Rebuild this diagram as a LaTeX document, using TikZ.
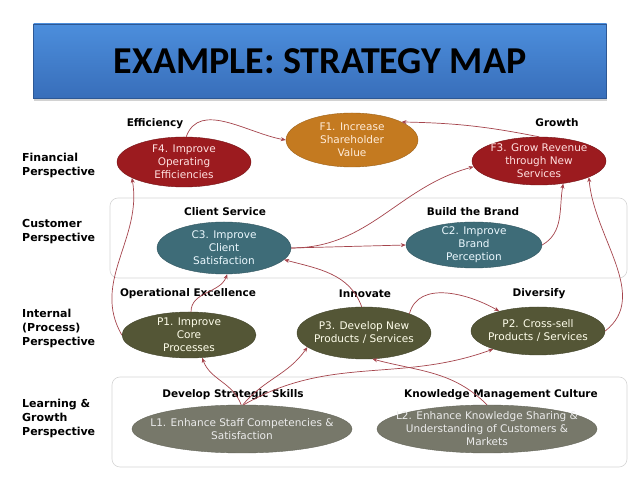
\documentclass[tikz,border=0pt]{standalone}
\usepackage{fontspec}
\setmainfont{DejaVu Sans}
\newfontfamily\titlefont{Carlito}
\usetikzlibrary{shapes.geometric,arrows.meta,shadows}

\definecolor{finred}{HTML}{9C1B1F}
\definecolor{finorange}{HTML}{C47A20}
\definecolor{custteal}{HTML}{3E6C78}
\definecolor{procolive}{HTML}{545636}
\definecolor{learngray}{HTML}{77786A}
\definecolor{linkred}{HTML}{A5444C}
\definecolor{titletop}{RGB}{76,142,220}
\definecolor{titlebottom}{RGB}{56,110,186}

\tikzset{
  titlebox/.style={minimum width=573pt, minimum height=74pt, draw=titlebottom!80!black,
    top color=titletop, bottom color=titlebottom,
    drop shadow={shadow xshift=0pt, shadow yshift=-3pt, opacity=0.35},
    font=\titlefont\bfseries\fontsize{38}{40}\selectfont},
  goal/.style={ellipse, inner xsep=-8pt, inner ysep=-4pt, align=center,
    minimum width=134pt, minimum height=50pt,
    font=\fontsize{10.5}{13}\selectfont},
  fingoal/.style={goal, fill=finred, draw=finred!75!black, text=red!12},
  orangegoal/.style={goal, fill=finorange, draw=finorange!80!black, text=orange!15},
  custgoal/.style={goal, fill=custteal, draw=custteal!80!black, text=cyan!8},
  procgoal/.style={goal, fill=procolive, draw=procolive!80!black, text=yellow!8!white},
  learngoal/.style={goal, fill=learngray, draw=learngray!85!black, text=white!92!black,
    inner xsep=-18pt, minimum width=220pt, minimum height=48pt},
  theme/.style={inner sep=0pt, font=\fontsize{10.5}{13}\selectfont\bfseries},
  persp/.style={inner sep=0pt, anchor=west, align=left,
    font=\fontsize{11}{14}\selectfont\bfseries},
  band/.style={draw=black!16, rounded corners=8pt, line width=0.6pt},
  link/.style={-{Stealth[length=5pt,width=4pt]}, draw=linkred, line width=0.7pt},
}

\begin{document}
\begin{tikzpicture}[x=1pt, y=1pt]
  \useasboundingbox[fill=white] (0,0) rectangle (638,479);

  % title
  \node[titlebox] (title) at (320,418) {EXAMPLE: STRATEGY MAP};

  % perspective bands
  \draw[band] (110,201) rectangle (627,281);
  \draw[band] (112,12) rectangle (627,102);

  \node[persp] (lfin) at (22,314) {Financial\\Perspective};
  \node[persp] (lcust) at (22,247) {Customer\\Perspective};
  \node[persp] (lproc) at (22,151) {Internal\\(Process)\\Perspective};
  \node[persp] (llearn) at (22,61) {Learning \&\\Growth\\Perspective};

  % themes
  \node[theme] (teff) at (155,355) {Efficiency};
  \node[theme] (tgrow) at (557,356) {Growth};
  \node[theme] (tclient) at (225,267) {Client Service};
  \node[theme] (tbrand) at (473,267) {Build the Brand};
  \node[theme] (topex) at (188,185) {Operational Excellence};
  \node[theme] (tinno) at (365,185) {Innovate};
  \node[theme] (tdiv) at (539,185) {Diversify};
  \node[theme] (tskill) at (233,84) {Develop Strategic Skills};
  \node[theme] (tknow) at (501,84) {Knowledge Management Culture};

  % objectives
  \node[fingoal] (f4) at (184,317) {F4. Improve\\Operating\\Efficiencies};
  \node[orangegoal, minimum width=132pt, minimum height=54pt] (f1) at (352,339) {F1. Increase\\Shareholder\\Value};
  \node[fingoal, minimum height=48pt] (f3) at (539,318) {F3. Grow Revenue\\through New\\Services};
  \node[custgoal, minimum height=52pt] (c3) at (224,231) {C3. Improve\\Client\\Satisfaction};
  \node[custgoal, minimum width=136pt, minimum height=46pt] (c2) at (474,234) {C2. Improve\\Brand\\Perception};
  \node[procgoal, minimum height=46pt] (p1) at (189,144) {P1. Improve\\Core\\Processes};
  \node[procgoal, minimum height=52pt] (p3) at (364,146) {P3. Develop New\\Products / Services};
  \node[procgoal, minimum height=48pt] (p2) at (538,148) {P2. Cross-sell\\Products / Services};
  \node[learngoal] (l1) at (242,50) {L1. Enhance Staff Competencies \&\\Satisfaction};
  \node[learngoal] (l2) at (487,50) {L2. Enhance Knowledge Sharing \&\\Understanding of Customers \&\\Markets};

  % cause and effect links
  \draw[link] (f4.85) to[out=70,in=170] (f1.west);
  \draw[link] (f3.north) to[bend right=5] (f1.20);
  \draw[link] (c3.east) to[out=0,in=195] (f3.185);
  \draw[link] (c3.east) -- (c2.west);
  \draw[link] (c2.east) to[out=30,in=-100] (f3.-43);
  \draw[link] (p2.east) .. controls +(45,35) and +(5,-60) .. (f3.-18);
  \draw[link] (p1.west) to[out=120,in=-80] (f4.197);
  \draw[link] (p1.85) to[out=90,in=-110] (c3.-83);
  \draw[link] (p3.95) to[out=110,in=-15] (c3.-11);
  \draw[link] (p3.23) to[out=75,in=150] (p2.153);
  \draw[link] (l1.92) to[out=110,in=-70] (p1.-60);
  \draw[link] (l1.88) to[out=50,in=-125] (p3.194);
  \draw[link] (l1.86) to[out=30,in=-160] (p2.202);
  \draw[link] (l2.north) to[out=135,in=-15] (p3.-72);
\end{tikzpicture}
\end{document}
